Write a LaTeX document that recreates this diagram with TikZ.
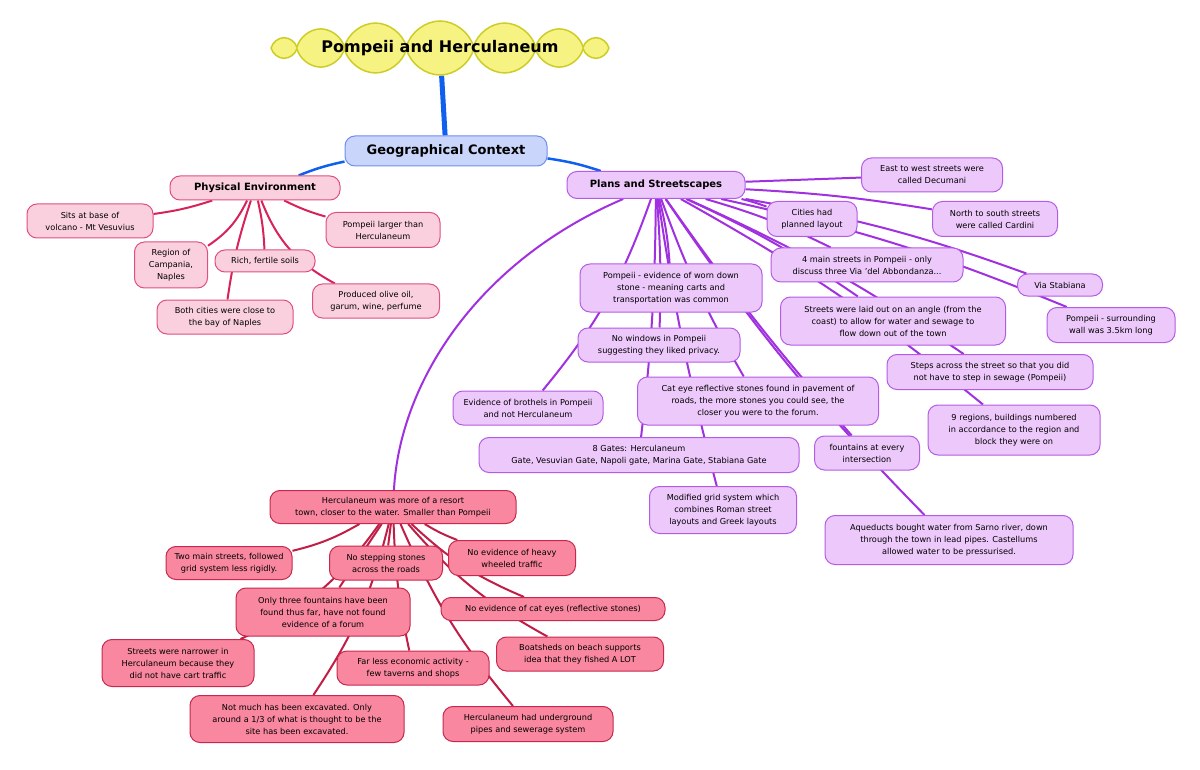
\documentclass[tikz,border=0pt]{standalone}
\usepackage{fontspec}
\setmainfont{DejaVu Sans}
\usetikzlibrary{shapes.symbols}
\pgfdeclarelayer{bg}
\pgfsetlayers{bg,main}
\definecolor{geoF}{HTML}{C9D5FB}\definecolor{geoD}{HTML}{6F8FF0}
\definecolor{blueL}{HTML}{1060F0}
\definecolor{phF}{HTML}{FAD0DE}\definecolor{phD}{HTML}{E0507E}\definecolor{phL}{HTML}{D8225A}
\definecolor{plF}{HTML}{EDC8FA}\definecolor{plD}{HTML}{B45CE6}\definecolor{plL}{HTML}{A030E0}
\definecolor{heF}{HTML}{F8879F}\definecolor{heD}{HTML}{C8284E}\definecolor{heL}{HTML}{C01E46}
\tikzset{
 sz/.style 2 args={minimum width=#1pt,minimum height=#2pt,inner sep=1pt},
 b/.style={rounded corners=10pt,align=center,font=\fontsize{8.2}{12}\selectfont,line width=1pt},
 ph/.style={b,fill=phF,draw=phD},
 pl/.style={b,fill=plF,draw=plD},
 he/.style={b,fill=heF,draw=heD},
 lph/.style={draw=phL,line width=2pt},
 lpl/.style={draw=plL,line width=2pt},
 lhe/.style={draw=heL,line width=2pt},
}
\begin{document}
\begin{tikzpicture}[x=1pt,y=-1pt]
\useasboundingbox (0,0) rectangle (1200,770);
\node[cloud,cloud puffs=16,aspect=6.5,fill={rgb,255:red,246;green,243;blue,130},draw={rgb,255:red,205;green,205;blue,40},line width=1.5pt,minimum width=338pt,minimum height=54pt,inner sep=0pt] (t) at (440,48) {};
\node[font=\fontsize{16}{20}\selectfont\bfseries] (tt) at (440,48) {Pompeii and Herculaneum};
\node[b,sz={202}{30},fill=geoF,draw=geoD,font=\fontsize{13}{16}\selectfont\bfseries] (geo) at (446,151) {Geographical Context};
\node[ph,sz={170}{24},font=\fontsize{10}{13}\selectfont\bfseries] (phy) at (255,188) {Physical Environment};
\node[pl,sz={178}{27},font=\fontsize{10}{13}\selectfont\bfseries] (pla) at (656,185) {Plans and Streetscapes};
% physical
\node[ph,sz={126}{34}] (p1) at (90,221) {Sits at base of\\volcano - Mt Vesuvius};
\node[ph,sz={73}{46}] (p2) at (171,265) {Region of\\Campania,\\Naples};
\node[ph,sz={100}{22}] (p3) at (265,261) {Rich, fertile soils};
\node[ph,sz={136}{34}] (p4) at (225,317) {Both cities were close to\\the bay of Naples};
\node[ph,sz={114}{35}] (p5) at (383,230) {Pompeii larger than\\Herculaneum};
\node[ph,sz={127}{34}] (p6) at (376,301) {Produced olive oil,\\garum, wine, perfume};
% plans
\node[pl,sz={141}{34}] (q1) at (932,175) {East to west streets were\\called Decumani};
\node[pl,sz={90}{35}] (q2) at (812,219) {Cities had\\planned layout};
\node[pl,sz={125}{35}] (q3) at (995,219) {North to south streets\\were called Cardini};
\node[pl,sz={192}{34}] (q4) at (867,265) {4 main streets in Pompeii - only\\discuss three Via 'del Abbondanza...};
\node[pl,sz={85}{22}] (q5) at (1060,285) {Via Stabiana};
\node[pl,sz={128}{35}] (q6) at (1111,325) {Pompeii - surrounding\\wall was 3.5km long};
\node[pl,sz={182}{48}] (q7) at (671,288) {Pompeii - evidence of worn down\\stone - meaning carts and\\transportation was common};
\node[pl,sz={225}{48}] (q8) at (893,321) {Streets were laid out on an angle (from the\\coast) to allow for water and sewage to\\flow down out of the town};
\node[pl,sz={162}{34}] (q9) at (659,345) {No windows in Pompeii\\suggesting they liked privacy.};
\node[pl,sz={206}{35}] (q10) at (990,372) {Steps across the street so that you did\\not have to step in sewage (Pompeii)};
\node[pl,sz={241}{48}] (q11) at (758,401) {Cat eye reflective stones found in pavement of\\roads, the more stones you could see, the\\closer you were to the forum.};
\node[pl,sz={150}{34}] (q12) at (528,408) {Evidence of brothels in Pompeii\\and not Herculaneum};
\node[pl,sz={172}{50}] (q13) at (1014,430) {9 regions, buildings numbered\\in accordance to the region and\\block they were on};
\node[pl,sz={320}{35}] (q14) at (639,455) {8 Gates: Herculaneum\\Gate, Vesuvian Gate, Napoli gate, Marina Gate, Stabiana Gate};
\node[pl,sz={105}{34}] (q15) at (867,453) {fountains at every\\intersection};
\node[pl,sz={147}{47}] (q16) at (723,510) {Modified grid system which\\combines Roman street\\layouts and Greek layouts};
\node[pl,sz={248}{49}] (q17) at (949,540) {Aqueducts bought water from Sarno river, down\\through the town in lead pipes. Castellums\\allowed water to be pressurised.};
% herculaneum
\node[he,sz={246}{33}] (h) at (393,507) {Herculaneum was more of a resort\\town, closer to the water. Smaller than Pompeii};
\node[he,sz={126}{33}] (h1) at (229,563) {Two main streets, followed\\grid system less rigidly.};
\node[he,sz={113}{34}] (h2) at (386,563) {No stepping stones\\across the roads};
\node[he,sz={127}{35}] (h3) at (512,558) {No evidence of heavy\\wheeled traffic};
\node[he,sz={174}{48}] (h4) at (323,612) {Only three fountains have been\\found thus far, have not found\\evidence of a forum};
\node[he,sz={224}{23}] (h5) at (553,609) {No evidence of cat eyes (reflective stones)};
\node[he,sz={152}{47}] (h6) at (178,663) {Streets were narrower in\\Herculaneum because they\\did not have cart traffic};
\node[he,sz={152}{34}] (h7) at (413,668) {Far less economic activity -\\few taverns and shops};
\node[he,sz={167}{34}] (h8) at (580,654) {Boatsheds on beach supports\\idea that they fished A LOT};
\node[he,sz={214}{47}] (h9) at (297,719) {Not much has been excavated. Only\\around a 1/3 of what is thought to be the\\site has been excavated.};
\node[he,sz={170}{35}] (h10) at (528,724) {Herculaneum had underground\\pipes and sewerage system};
\begin{pgfonlayer}{bg}
\fill[white] (0,0) rectangle (1200,770);
\draw[blueL,line width=5pt] (t) -- (geo);
\draw[blueL,line width=2.5pt] (geo) to[bend right=5] (phy);
\draw[blueL,line width=2.5pt] (geo) to[bend left=5] (pla);
\foreach \n/\bb in {p1/5,p2/15,p3/5,p4/-5,p5/-5,p6/-20}
  \draw[lph] (phy) to[bend left=\bb] (\n);
\foreach \n/\bb in {q1/0,q2/3,q3/3,q4/5,q5/5,q6/5,q7/5,q8/5,q9/3,q10/5,q11/-5,q12/10,q13/5,q14/3,q15/-3,q16/-3,q17/-5}
  \draw[lpl] (pla) to[bend left=\bb] (\n);
\draw[lpl] (pla) .. controls (480,260) and (400,380) .. (h);
\foreach \n/\bb in {h1/8,h2/0,h3/-5,h4/0,h5/-10,h6/15,h7/-5,h8/-10,h9/10,h10/-8}
  \draw[lhe] (h) to[bend left=\bb] (\n);
\end{pgfonlayer}
\end{tikzpicture}
\end{document}
